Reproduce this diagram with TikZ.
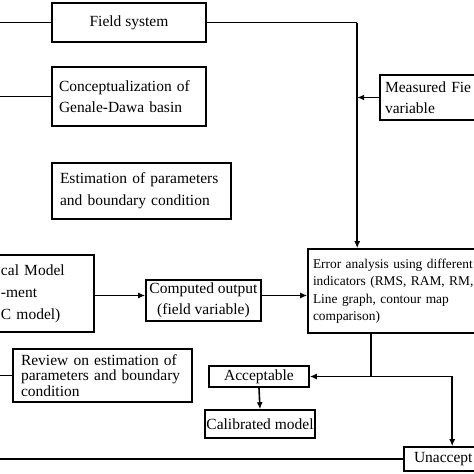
\documentclass[tikz,border=0pt]{standalone}
\usepackage{fontspec}
\setmainfont{Liberation Serif}
\usetikzlibrary{arrows.meta}

\begin{document}
\begin{tikzpicture}[x=1pt,y=-1pt,line width=1.6pt,
  box/.style={draw,inner ysep=0pt,align=left,font=\fontsize{15.5}{21}\selectfont},
  arr/.style={-{Latex[length=7pt,width=6pt]}}]
  \fill[white] (0,0) rectangle (474,474);
  \useasboundingbox (0,0) rectangle (474,474);
  \clip (0,0) rectangle (474,474);
  \coordinate (edge) at (-5,0);
  % boxes
  \node[box,minimum width=154pt,minimum height=39pt] (field) at (129,22.5) {Field system};
  \node[box,text width=140pt,inner xsep=7pt,minimum height=59pt] (concept) at (129,96.5) {Conceptualization of\\Genale-Dawa basin};
  \node[box,text width=120pt,inner xsep=5pt,minimum height=45pt] (meas) at (445,97.5) {Measured Fie\\variable};
  \node[box,text width=163pt,inner xsep=8pt,minimum height=56pt,font=\fontsize{15.5}{22}\selectfont] (estim) at (141.5,191) {Estimation of parameters\\and boundary condition};
  \node[box,text width=88pt,inner xsep=5pt,minimum height=77pt,font=\fontsize{15.5}{22}\selectfont] (model) at (45,293.5) {cal Model\\-ment\\C model)};
  \node[box,minimum width=115pt,inner xsep=1pt,minimum height=41pt,align=center] (comp) at (203.5,300.5) {Computed output\\(field variable)};
  \node[box,text width=200pt,inner xsep=5pt,minimum height=84pt,font=\fontsize{13.4}{17.5}\selectfont] (error) at (413,291) {Error analysis using different\\indicators (RMS, RAM, RM,\\Line graph, contour map\\comparison)};
  \node[box,minimum width=100pt,minimum height=21pt] (acc) at (259,376.5) {Acceptable};
  \node[box,minimum width=110pt,inner xsep=1pt,minimum height=28pt] (cal) at (260,424) {Calibrated model};
  \node[box,text width=163pt,inner xsep=8pt,minimum height=53pt,font=\fontsize{15.5}{15.5}\selectfont] (rev) at (102.5,375.5) {Review on estimation of\\parameters and boundary\\condition};
  \node[box,text width=80pt,inner xsep=10pt,minimum height=24pt] (unacc) at (454,459) {Unaccept};
  % links
  \coordinate (bend) at ([xshift=50pt]error.north west |- field.east);
  \draw (field.west) -- (field.west -| edge);
  \draw (concept.west) -- (concept.west -| edge);
  \draw (field.east) -- (bend);
  \draw[arr] (bend) -- (bend |- error.north);
  \draw[arr] (meas.west) -- (meas.west -| bend);
  \draw[arr] ([yshift=5pt]comp.west -| model.east) -- ([yshift=5pt]comp.west);
  \draw[arr] ([yshift=5pt]comp.east) -- ([yshift=5pt]comp.east -| error.west);
  \coordinate (es) at ([xshift=64pt]error.south west);
  \coordinate (split) at (es |- acc.east);
  \coordinate (ut) at ([xshift=49pt]unacc.north west);
  \draw (es) -- (split);
  \draw[arr] (split) -- (acc.east);
  \draw[arr] (split) -| (ut);
  \draw[arr] (acc.south) -- (cal.north);
  \draw (rev.west) -- (rev.west -| edge);
  \draw (unacc.west) -- (unacc.west -| edge);
\end{tikzpicture}
\end{document}
